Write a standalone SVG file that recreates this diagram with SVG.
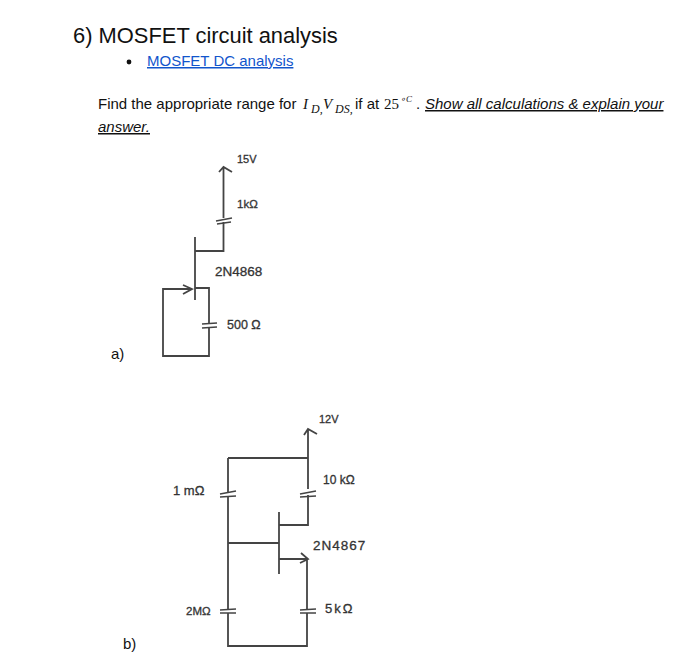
<svg xmlns="http://www.w3.org/2000/svg" width="700" height="670" viewBox="0 0 700 670">
<style>
.t{font-family:"Liberation Sans",Arial,sans-serif;fill:#111;font-size:15px}
.s{font-family:"Liberation Serif","Times New Roman",serif;fill:#111;font-style:italic}
.h{font-family:"Liberation Sans",Arial,sans-serif;fill:#333;stroke:#333;stroke-width:.3}
.w{fill:none;stroke:#444;stroke-width:1.8}
.c{fill:none;stroke:#444;stroke-width:1.5}
</style>
<rect width="700" height="670" fill="#fff"/>
<text class="t" x="73" y="43" style="font-size:21.9px">6) MOSFET circuit analysis</text>
<circle cx="129" cy="62" r="2.4" fill="#111"/>
<text class="t" x="147" y="66" style="fill:#1155cc" text-decoration="underline">MOSFET DC analysis</text>
<text class="t" x="98" y="109">Find the appropriate range for</text>
<text class="s" x="303" y="109" font-size="15">I</text>
<text class="s" x="311" y="113" font-size="12">D,</text>
<text class="s" x="323" y="109" font-size="15">V</text>
<text class="s" x="335" y="113" font-size="12">DS,</text>
<text class="t" x="355" y="109">if at</text>
<text x="384" y="109" font-size="15" font-family="'Liberation Serif',serif" fill="#111">25</text>
<text class="s" x="400" y="102" font-size="9">∘C</text>
<text class="t" x="416" y="109">.</text>
<text class="t" x="425" y="109" font-style="italic" text-decoration="underline">Show all calculations &amp; explain your</text>
<text class="t" x="98" y="132" font-style="italic" text-decoration="underline">answer.</text>
<text class="t" x="111" y="359">a)</text>
<text class="t" x="123" y="649">b)</text>
<g id="connectors">
<path class="w" d="M223.5 218V167M219 172L223.5 167L232 172"/>
<path class="w" d="M223.5 222V251H195"/>
<path class="w" d="M195 237V300"/>
<path class="w" d="M195 288H209V323M209 327V356H163V289H192M183 285L192 289L183 294"/>
<path class="w" d="M228 458H308"/>
<path class="w" d="M308 489V429M304 435L308 429L317 434"/>
<path class="w" d="M308 495V525H279"/>
<path class="w" d="M279 512V574"/>
<path class="w" d="M228 458V492M228 496V609M228 613V646H307V613M307 609V559H279M301 553L308 559L300 563"/>
<path class="w" d="M228 543H279"/>
</g>
<g id="r1"><path class="c" d="M216 221L232 218M217 224L231 222"/><text class="h" x="237" y="208" style="font-size:11.5px">1kΩ</text></g>
<g id="r2"><path class="c" d="M202 324L217 323M202 328L217 327"/><text class="h" x="227" y="329" style="font-size:12.5px">500 Ω</text></g>
<g id="q1"><text class="h" x="215" y="276" style="font-size:13.5px">2N4868</text></g>
<g id="v1"><text class="h" x="237" y="163" style="font-size:11px">15V</text></g>
<g id="r3"><path class="c" d="M220 494L236 491M220 497L236 496"/><text class="h" x="173" y="495" style="font-size:13px">1 mΩ</text></g>
<g id="r4"><path class="c" d="M300 494L316 491M300 497L316 496"/><text class="h" x="323" y="484" style="font-size:12px">10 kΩ</text></g>
<g id="r5"><path class="c" d="M220 610L236 609M220 613L236 613"/><text class="h" x="186" y="615" style="font-size:11.5px">2MΩ</text></g>
<g id="r6"><path class="c" d="M300 610L316 609M300 613L316 613"/><text class="h" x="325" y="613" style="font-size:13px;letter-spacing:2px">5kΩ</text></g>
<g id="q2"><text class="h" x="313" y="550" style="font-size:13.5px;letter-spacing:1px">2N4867</text></g>
<g id="v2"><text class="h" x="319" y="423" style="font-size:11px">12V</text></g>
</svg>
